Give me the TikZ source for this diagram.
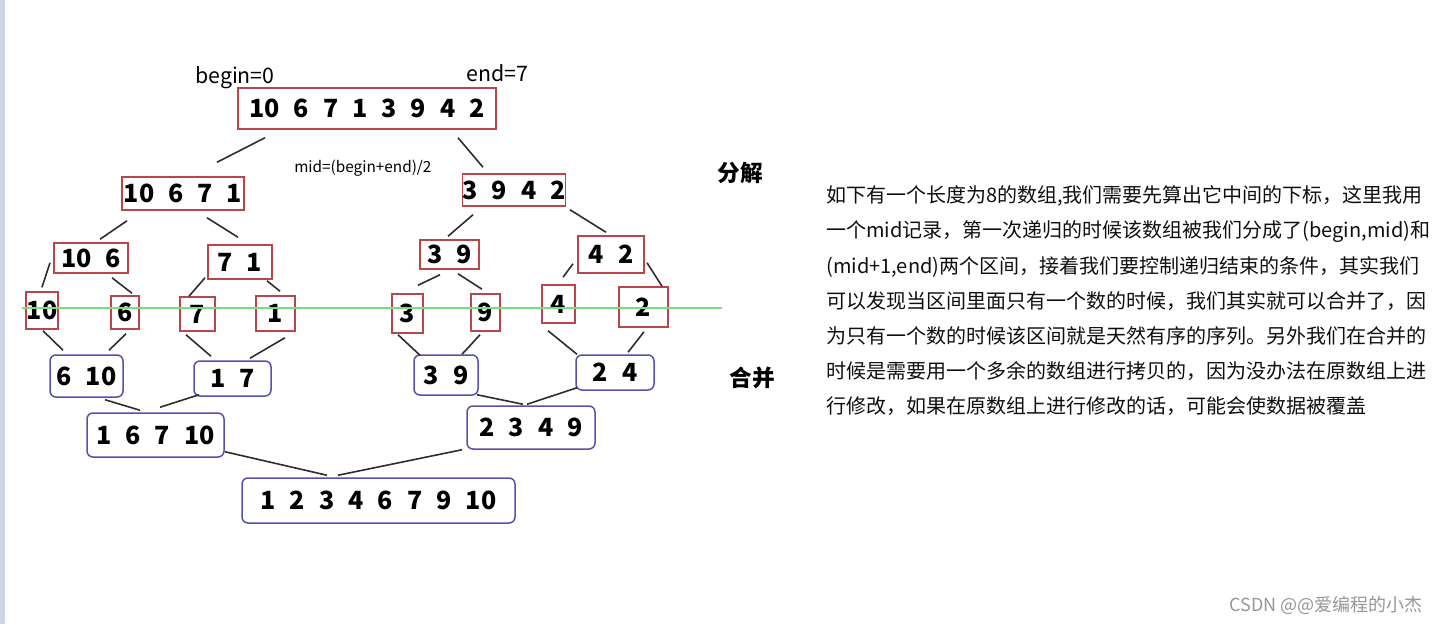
\documentclass[tikz,border=0pt]{standalone}
\usepackage{fontspec}
\setmainfont{Noto Sans CJK SC}
\newdimen\pxu \pxu=0.75pt
\definecolor{rboxc}{RGB}{185,70,75}
\definecolor{bboxc}{RGB}{85,80,180}
\definecolor{connc}{RGB}{45,45,45}
\definecolor{greenl}{RGB}{125,220,125}
\definecolor{stripc}{RGB}{204,212,230}
\definecolor{wmark}{RGB}{150,150,150}
\newcommand\numfont{\bfseries\fontsize{18.8}{22}\selectfont\spaceskip=0.56em\relax}
\tikzset{
  rbox/.style={draw=rboxc, line width=1.5\pxu, inner sep=0pt, font=\numfont},
  bbox/.style={draw=bboxc, line width=1.5\pxu, rounded corners=6\pxu, inner sep=0pt, font=\numfont},
  conn/.style={draw=connc, line width=1.6\pxu},
  lbl/.style={inner sep=0pt, anchor=base west, font=\fontsize{16}{19}\selectfont},
  para/.style={inner sep=0pt, anchor=base west, font=\fontsize{15}{18}\selectfont, text={rgb,255:red,15;green,15;blue,15}},
  stage/.style={inner sep=0pt, font=\bfseries\fontsize{17}{20}\selectfont},
}
\begin{document}
\begin{tikzpicture}[x=0.75pt,y=-0.75pt]
\useasboundingbox (0,0) rectangle (1451,624);
\fill[stripc] (0,0) rectangle (5,624);

% labels
\node[lbl] (beg) at (195,84) {begin=0};
\node[lbl] (en) at (466,82) {end=7};
\node[lbl, font=\fontsize{11.5}{14}\selectfont] (mid) at (294,172) {mid=(begin+end)/2};

% split (red boxes)
\node[rbox, minimum width=258\pxu, minimum height=41\pxu] (top) at (367,108.5) {10 6 7 1 3 9 4 2};
\node[rbox, minimum width=122\pxu, minimum height=33\pxu] (L1a) at (183,193.5) {10 6 7 1};
\node[rbox, minimum width=94\pxu, minimum height=32\pxu] (L1b) at (514,190) {3 9 4 2};
\node[rbox, minimum width=74\pxu, minimum height=30\pxu] (A) at (91,258) {10 6};
\node[rbox, minimum width=64\pxu, minimum height=34\pxu] (B) at (240,262) {7 1};
\node[rbox, minimum width=59\pxu, minimum height=29\pxu] (C) at (449.5,254.5) {3 9};
\node[rbox, minimum width=66\pxu, minimum height=37\pxu] (D) at (611,254.5) {4 2};
\node[rbox, minimum width=32\pxu, minimum height=37\pxu] (l10) at (42,310.5) {10};
\node[rbox, minimum width=28\pxu, minimum height=33\pxu] (l6) at (125,312.5) {6};
\node[rbox, minimum width=35\pxu, minimum height=34\pxu] (l7) at (197.5,314) {7};
\node[rbox, minimum width=39\pxu, minimum height=35\pxu] (l1) at (275.5,313.5) {1};
\node[rbox, minimum width=31\pxu, minimum height=39\pxu] (l3) at (407.5,313.5) {3};
\node[rbox, minimum width=29\pxu, minimum height=37\pxu] (l9) at (485.5,312.5) {9};
\node[rbox, minimum width=33\pxu, minimum height=38\pxu] (l4) at (558.5,304) {4};
\node[rbox, minimum width=49\pxu, minimum height=40\pxu] (l2) at (643.5,307) {2};

% merge (blue boxes)
\node[bbox, minimum width=73\pxu, minimum height=42\pxu] (m610) at (86.5,376) {6 10};
\node[bbox, minimum width=77\pxu, minimum height=35\pxu] (m17) at (232.5,378.5) {1 7};
\node[bbox, minimum width=64\pxu, minimum height=40\pxu] (m39) at (446,375) {3 9};
\node[bbox, minimum width=78\pxu, minimum height=35\pxu] (m24) at (615,372.5) {2 4};
\node[bbox, minimum width=137\pxu, minimum height=44\pxu] (m1) at (155.5,435) {1 6 7 10};
\node[bbox, minimum width=128\pxu, minimum height=43\pxu] (m2) at (531,427.5) {2 3 4 9};
\node[bbox, minimum width=273\pxu, minimum height=45\pxu] (fin) at (378.5,500.5) {1 2 3 4 6 7 9 10};

% connectors: split
\draw[conn] ([shift={(-102,8)}]top.south) -- ([shift={(34,-14)}]L1a.north);
\draw[conn] ([shift={(91,8)}]top.south) -- ([shift={(-31,-6)}]L1b.north);
\draw[conn] ([shift={(-56,10)}]L1a.south) -- ([shift={(9,-3)}]A.north);
\draw[conn] ([shift={(24,7)}]L1a.south) -- ([shift={(-2,-7)}]B.north);
\draw[conn] ([shift={(-41,8)}]L1b.south) -- ([shift={(-1.5,-3)}]C.north);
\draw[conn] ([shift={(56,3)}]L1b.south) -- ([shift={(-5,-3)}]D.north);
\draw[conn] ([shift={(-41,-11)}]A.south) -- ([shift={(0,-4)}]l10.north);
\draw[conn] ([shift={(21,4)}]A.south) -- ([shift={(7,-2)}]l6.north);
\draw[conn] ([shift={(-35,-2)}]B.south) -- ([shift={(-8.5,0)}]l7.north);
\draw[conn] ([shift={(27,1)}]B.south) -- ([shift={(4.5,-4)}]l1.north);
\draw[conn] ([shift={(-9.5,5)}]C.south) -- ([shift={(10.5,-8)}]l3.north);
\draw[conn] ([shift={(8.5,4)}]C.south) -- ([shift={(-3.5,-4)}]l9.north);
\draw[conn] ([shift={(-38,-10)}]D.south) -- ([shift={(4.5,-7)}]l4.north);
\draw[conn] ([shift={(36,-11)}]D.south) -- ([shift={(18.5,0)}]l2.north);

% connectors: merge
\draw[conn] ([shift={(1,1)}]l10.south) -- ([shift={(-23.5,-4)}]m610.north);
\draw[conn] ([shift={(1,4)}]l6.south) -- ([shift={(22.5,-4)}]m610.north);
\draw[conn] ([shift={(-11.5,3)}]l7.south) -- ([shift={(-21.5,-4)}]m17.north);
\draw[conn] ([shift={(9.5,6)}]l1.south) -- ([shift={(17.5,-2)}]m17.north);
\draw[conn] ([shift={(-9.5,1)}]l3.south) -- ([shift={(-26,1)}]m39.north);
\draw[conn] ([shift={(-5.5,3)}]l9.south) -- ([shift={(16,0)}]m39.north);
\draw[conn] ([shift={(-10.5,7)}]l4.south) -- ([shift={(-38,0)}]m24.north);
\draw[conn] ([shift={(0.5,4)}]l2.south) -- ([shift={(13,-2)}]m24.north);
\draw[conn] ([shift={(18.5,2)}]m610.south) -- ([shift={(-15.5,-2)}]m1.north);
\draw[conn] ([shift={(-33.5,-2)}]m17.south) -- ([shift={(4.5,-5)}]m1.north);
\draw[conn] ([shift={(31,-1)}]m39.south) -- ([shift={(-8,-1)}]m2.north);
\draw[conn] ([shift={(-38,-3)}]m24.south) -- ([shift={(-4,-1)}]m2.north);
\draw[conn] ([shift={(69.5,-6)}]m1.south) -- ([shift={(-51.5,-2)}]fin.north);
\draw[conn] ([shift={(-69,0)}]m2.south) -- ([shift={(-40.5,-2)}]fin.north);

% green divider
\coordinate (gl) at (22,308);
\coordinate (gr) at (722,308);
\draw[greenl, line width=2.4\pxu] (gl) -- (gr);

% stage labels
\node[stage] (fenjie) at (740,172.5) {分解};
\node[stage] (hebing) at (752,377.5) {合并};

% paragraph
\node[para] (p1) at (826,202.6) {如下有一个长度为8的数组,我们需要先算出它中间的下标，这里我用};
\node[para] (p2) at (826,237.8) {一个mid记录，第一次递归的时候该数组被我们分成了(begin,mid)和};
\node[para] (p3) at (826,273.0) {(mid+1,end)两个区间，接着我们要控制递归结束的条件，其实我们};
\node[para] (p4) at (826,308.2) {可以发现当区间里面只有一个数的时候，我们其实就可以合并了，因};
\node[para] (p5) at (826,343.4) {为只有一个数的时候该区间就是天然有序的序列。另外我们在合并的};
\node[para] (p6) at (826,378.6) {时候是需要用一个多余的数组进行拷贝的，因为没办法在原数组上进};
\node[para] (p7) at (826,413.8) {行修改，如果在原数组上进行修改的话，可能会使数据被覆盖};

% watermark
\node[inner sep=0pt, anchor=base west, text=wmark, font=\fontsize{13.5}{16}\selectfont] (wm) at (1229,611) {CSDN @@爱编程的小杰};
\end{tikzpicture}
\end{document}
